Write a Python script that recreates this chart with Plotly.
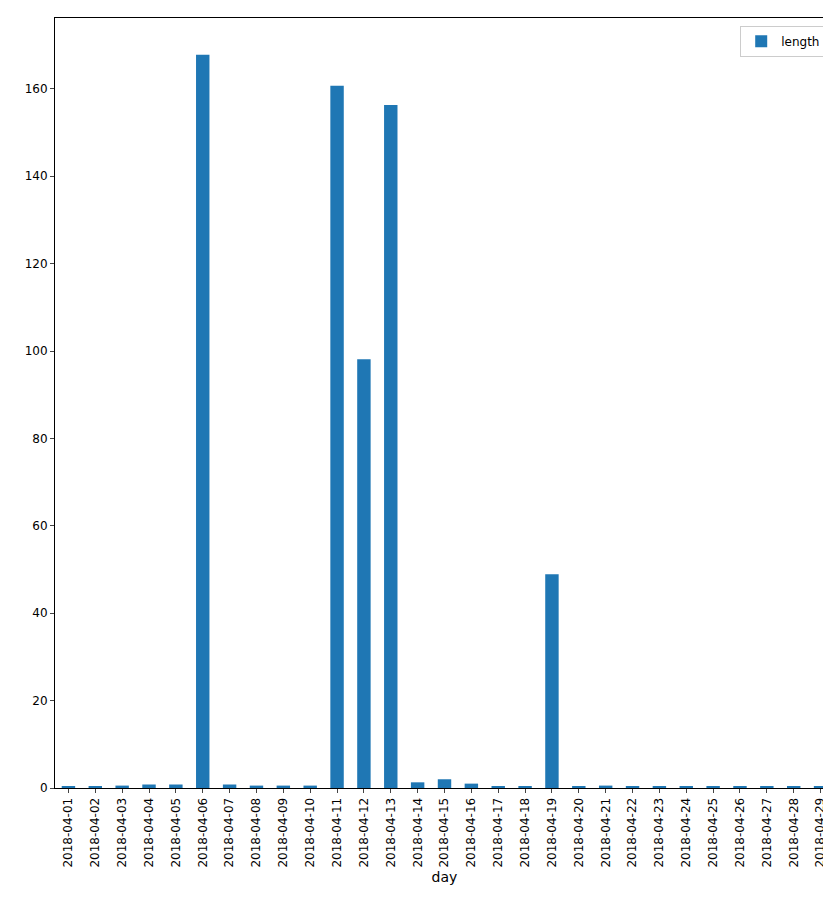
import plotly.graph_objects as go

days = [f"2018-04-{d:02d}" for d in range(1, 30)]
length = [0.35, 0.35, 0.55, 0.8, 0.8, 167.8, 0.8, 0.55, 0.55, 0.55,
          160.7, 98.1, 156.3, 1.3, 2.0, 1.0, 0.35, 0.35, 48.9, 0.35,
          0.55, 0.35, 0.35, 0.35, 0.35, 0.35, 0.35, 0.35, 0.35]
yticks = [0, 20, 40, 60, 80, 100, 120, 140, 160]

fig = go.Figure(go.Bar(x=days, y=length, name="length", marker_color="#1f77b4",
                       marker_line_width=0, width=0.5, showlegend=True))
fig.update_layout(
    width=831, height=899, plot_bgcolor="white", paper_bgcolor="white",
    margin=dict(l=47, r=5, t=10, b=119, autoexpand=False),
    font=dict(family="DejaVu Sans", size=12, color="black"),
    legend=dict(x=0.99, y=0.99, xanchor="right", yanchor="top",
                bordercolor="#cccccc", borderwidth=1, bgcolor="white"),
    xaxis=dict(title=dict(text="day", standoff=5), tickangle=-90, showline=True, linecolor="black",
               mirror=True, ticks="outside", ticklen=4, range=[-0.5, 28.5], type="category",
               automargin=False),
    yaxis=dict(range=[0, 176.2], tickvals=yticks, showline=True, linecolor="black",
               mirror=True, ticks="outside", ticklen=4, showgrid=False, zeroline=False,
               automargin=False),
)
fig.write_html("out.html")
